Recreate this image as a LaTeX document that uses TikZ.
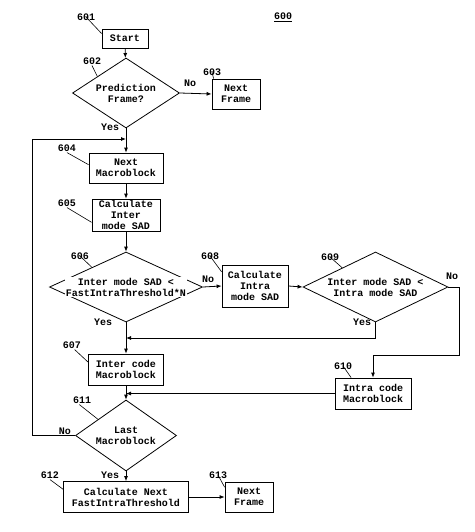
\documentclass[tikz,border=0pt]{standalone}
\usepackage{fontspec}
\setmonofont{Liberation Mono}
\usetikzlibrary{shapes.geometric,arrows.meta}

\tikzset{
    txt/.style={font=\ttfamily\bfseries\fontsize{10}{11}\selectfont, align=center},
    box/.style={txt, draw, rectangle, inner sep=0pt, line width=0.8pt},
    decision/.style={draw, diamond, inner sep=0pt, line width=0.8pt},
    dtext/.style={txt, fill=white, inner sep=1pt},
    num/.style={txt, inner sep=1pt},
    flow/.style={line width=0.8pt, -{Latex[length=5pt,width=4pt]}},
    link/.style={line width=0.8pt},
    leader/.style={line width=0.6pt}
}

\begin{document}
\begin{tikzpicture}[x=1pt,y=-1pt]
    % Page frame
    \useasboundingbox (0,0) rectangle (474,532);

    % Boxes
    \node[box, minimum width=46pt, minimum height=19pt] (start) at (125,38.5) {Start};
    \node[box, minimum width=48pt, minimum height=30pt] (f603) at (236,94) {Next\\Frame};
    \node[box, minimum width=74pt, minimum height=30pt] (b604) at (126,168) {Next\\Macroblock};
    \node[box, minimum width=68pt, minimum height=32pt] (b605) at (126,215) {Calculate\\Inter\\mode SAD};
    \node[box, minimum width=66pt, minimum height=42pt] (b608) at (255,286) {Calculate\\Intra\\mode SAD};
    \node[box, minimum width=75pt, minimum height=31pt] (b607) at (126,369.5) {Inter code\\Macroblock};
    \node[box, minimum width=76pt, minimum height=31pt] (b610) at (373,393.5) {Intra code\\Macroblock};
    \node[box, minimum width=125pt, minimum height=31pt] (b612) at (126,497) {Calculate Next\\FastIntraThreshold};
    \node[box, minimum width=48pt, minimum height=30pt] (f613) at (249,497) {Next\\Frame};

    % Decisions (text laid over the outline)
    \node[decision, minimum width=107pt, minimum height=70pt] (d602) at (126,93) {};
    \node[dtext] (t602) at (d602) {Prediction\\Frame?};
    \node[decision, minimum width=153pt, minimum height=70pt] (d606) at (126,287) {};
    \node[dtext] (t606) at (d606) {Inter mode SAD <\\FastIntraThreshold*N};
    \node[decision, minimum width=145pt, minimum height=70pt] (d609) at (375.5,287) {};
    \node[dtext] (t609) at (d609) {Inter mode SAD <\\Intra mode SAD};
    \node[decision, minimum width=101pt, minimum height=71pt] (d611) at (126,435.5) {};
    \node[dtext] (t611) at (d611) {Last\\Macroblock};

    % Junction points
    \coordinate (j1) at (126,338);
    \coordinate (j3) at (126,139);
    \coordinate (loop) at (32,139);
    \coordinate (k1) at (459,355);

    % Flow
    \draw[flow] (start) -- (d602);
    \draw[flow] (d602.east) -- (f603.west);
    \draw[flow] (d602.south) -- (b604.north);
    \draw[flow] (b604) -- (b605);
    \draw[flow] (b605) -- (d606.north);
    \draw[flow] (d606.east) -- (b608.west);
    \draw[flow] (b608.east) -- (d609.west);
    \draw[flow] (d606.south) -- (b607.north);
    \draw[flow] (d609.south) |- (j1);
    \draw[flow] (d609.east) -| (k1) -| (b610.north);
    \draw[flow] (b610.west) -- (b607.south |- b610.west);
    \draw[flow] (b607.south) -- (d611.north);
    \draw[flow] (d611.west) -| (loop) -- (j3);
    \draw[flow] (d611.south) -- (b612.north);
    \draw[flow] (b612.east) -- (f613.west);

    % Yes / No labels
    \node[txt] (no602) at (190,83) {No};
    \node[txt] (yes602) at (110,127) {Yes};
    \node[txt] (no606) at (208,279) {No};
    \node[txt] (yes606) at (103,322) {Yes};
    \node[txt] (no609) at (452,276) {No};
    \node[txt] (yes609) at (362,322) {Yes};
    \node[txt] (no611) at (65,431) {No};
    \node[txt] (yes611) at (110,475) {Yes};

    % Reference numerals
    \node[num] (n600) at (283,17) {\underline{600}};
    \node[num] (n601) at (86,17) {601};
    \node[num] (n602) at (92,61) {602};
    \node[num] (n603) at (212,72) {603};
    \node[num] (n604) at (67,148) {604};
    \node[num] (n605) at (67,203) {605};
    \node[num] (n606) at (80,256) {606};
    \node[num] (n607) at (72,345) {607};
    \node[num] (n608) at (210,256) {608};
    \node[num] (n609) at (330,257) {609};
    \node[num] (n610) at (343,366) {610};
    \node[num] (n611) at (82,400) {611};
    \node[num] (n612) at (50,475) {612};
    \node[num] (n613) at (218,475) {613};

    % Leader lines
    \draw[leader] (n601.center) -- (start.168);
    \draw[leader] (n602.south) -- (d602.150);
    \draw[leader] (n603.center) -- ([xshift=2pt]f603.north west);
    \draw[leader] (n604.south) -- (b604.175);
    \draw[leader] (n605.south) -- (b605.192);
    \draw[leader] (n606.center) -- (d606.150);
    \draw[leader] (n607.300) -- (b607.169);
    \draw[leader] (n608.center) -- (b608.157);
    \draw[leader] (n609.center) -- (d609.150);
    \draw[leader] (n610.center) -- (b610.144);
    \draw[leader] (n611.240) -- (d611.150);
    \draw[leader] (n612.south) -- (b612.173);
    \draw[leader] (n613.center) -- (f613.158);
\end{tikzpicture}
\end{document}
